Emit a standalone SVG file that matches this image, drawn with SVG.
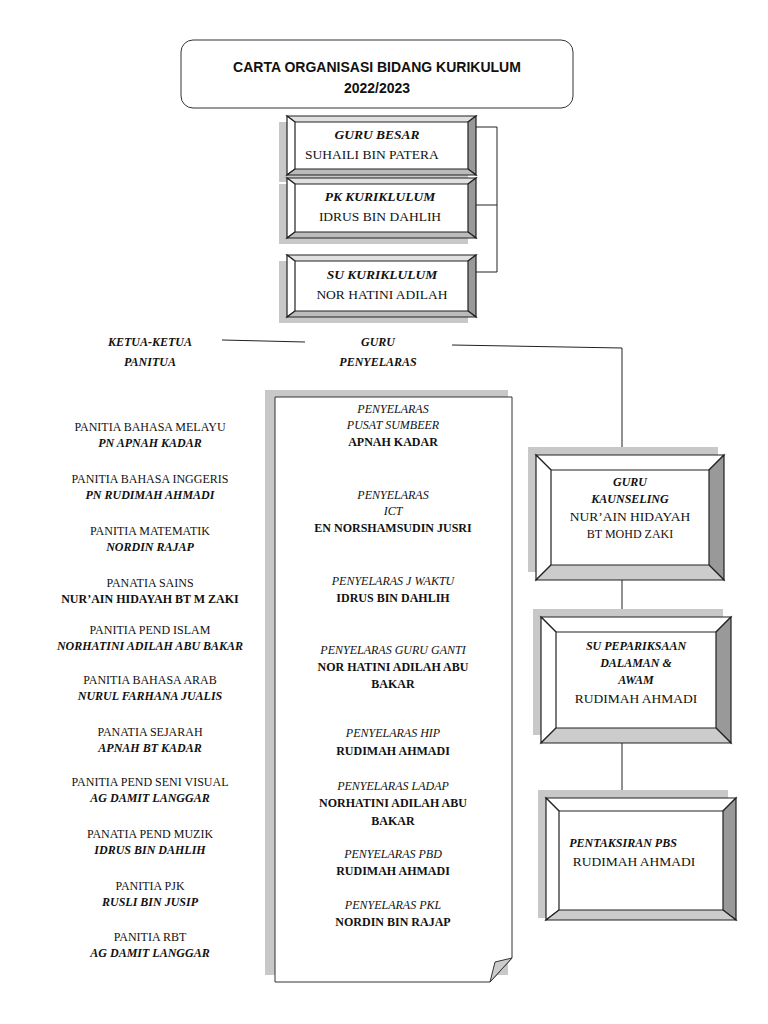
<svg xmlns="http://www.w3.org/2000/svg" width="768" height="1024" viewBox="0 0 768 1024">
<style>
text{font-family:"Liberation Serif","Times New Roman",serif;font-size:12px;fill:#111;text-anchor:middle}
.bi{font-weight:bold;font-style:italic}
.b{font-weight:bold}
.i{font-style:italic}
.n{font-size:13.5px}
.t{font-family:"Liberation Sans",Arial,sans-serif;font-weight:bold;font-size:14px}
.ln{stroke:#222;stroke-width:1;fill:none}
.sh{fill:#c8c8c8}
.bv{stroke:#222;stroke-width:1.2}
</style>
<rect width="768" height="1024" fill="#fff"/>
<g id="title">
<rect x="181" y="40" width="392" height="68" rx="12" fill="#fff" stroke="#333"/>
<text class="t" x="377" y="72">CARTA ORGANISASI BIDANG  KURIKULUM</text>
<text class="t" x="377" y="93">2022/2023</text>
</g>
<g id="connectors" class="ln">
<polyline points="476,127 497,127 497,272 476,272"/>
<line x1="476" y1="205" x2="497" y2="205"/>
<line x1="222" y1="340" x2="305" y2="342"/>
<polyline points="452,345 622,348 622,455"/>
<line x1="622" y1="580" x2="622" y2="617"/>
<line x1="622" y1="743" x2="622" y2="798"/>
</g>
<g id="guru-besar">
<rect class="sh" x="279" y="122" width="189" height="60"/>
<rect x="287" y="116" width="189" height="59" fill="#fff"/>
<polygon points="287,116 476,116 468,122 295,122" fill="#e0e0e0" class="bv"/>
<polygon points="287,116 295,122 295,169 287,175" fill="#fff" class="bv"/>
<polygon points="476,116 476,175 468,169 468,122" fill="#999" class="bv"/>
<polygon points="287,175 476,175 468,169 295,169" fill="#bbb" class="bv"/>
<text class="bi n" x="377" y="139">GURU BESAR</text>
<text class="n" x="372" y="159">SUHAILI BIN PATERA</text>
</g>
<g id="pk-kurikulum">
<rect class="sh" x="279" y="184" width="189" height="60"/>
<rect x="287" y="178" width="189" height="60" fill="#fff"/>
<polygon points="287,178 476,178 468,184 295,184" fill="#e0e0e0" class="bv"/>
<polygon points="287,178 295,184 295,232 287,238" fill="#fff" class="bv"/>
<polygon points="476,178 476,238 468,232 468,184" fill="#999" class="bv"/>
<polygon points="287,238 476,238 468,232 295,232" fill="#bbb" class="bv"/>
<text class="bi n" x="380" y="201">PK KURIKLULUM</text>
<text class="n" x="380" y="221">IDRUS BIN DAHLIH</text>
</g>
<g id="su-kurikulum">
<rect class="sh" x="279" y="261" width="189" height="62"/>
<rect x="287" y="255" width="189" height="62" fill="#fff"/>
<polygon points="287,255 476,255 468,261 295,261" fill="#e0e0e0" class="bv"/>
<polygon points="287,255 295,261 295,311 287,317" fill="#fff" class="bv"/>
<polygon points="476,255 476,317 468,311 468,261" fill="#999" class="bv"/>
<polygon points="287,317 476,317 468,311 295,311" fill="#bbb" class="bv"/>
<text class="bi n" x="382" y="279">SU KURIKLULUM</text>
<text class="n" x="382" y="299">NOR HATINI ADILAH</text>
</g>
<g id="ketua">
<text class="bi" x="150" y="346">KETUA-KETUA</text>
<text class="bi" x="150" y="366">PANITUA</text>
</g>
<g id="guru-penyelaras">
<text class="bi" x="378" y="346">GURU</text>
<text class="bi" x="378" y="366">PENYELARAS</text>
</g>
<g id="panitia">
<text x="150" y="431">PANITIA  BAHASA MELAYU</text><text class="bi" x="150" y="447">PN APNAH KADAR</text>
<text x="150" y="483">PANITIA  BAHASA INGGERIS</text><text class="bi" x="150" y="499">PN RUDIMAH AHMADI</text>
<text x="150" y="535">PANITIA   MATEMATIK</text><text class="bi" x="150" y="551">NORDIN RAJAP</text>
<text x="150" y="587">PANATIA SAINS</text><text class="b" x="150" y="603">NUR’AIN HIDAYAH BT M ZAKI</text>
<text x="150" y="634">PANITIA  PEND ISLAM</text><text class="bi" x="150" y="650">NORHATINI ADILAH ABU BAKAR</text>
<text x="150" y="684">PANITIA  BAHASA ARAB</text><text class="bi" x="150" y="700">NURUL FARHANA JUALIS</text>
<text x="150" y="736">PANATIA SEJARAH</text><text class="bi" x="150" y="752">APNAH BT KADAR</text>
<text x="150" y="786">PANITIA  PEND SENI VISUAL</text><text class="bi" x="150" y="802">AG DAMIT LANGGAR</text>
<text x="150" y="838">PANATIA PEND MUZIK</text><text class="bi" x="150" y="854">IDRUS BIN DAHLIH</text>
<text x="150" y="890">PANITIA  PJK</text><text class="bi" x="150" y="906">RUSLI BIN JUSIP</text>
<text x="150" y="941">PANITIA  RBT</text><text class="bi" x="150" y="957">AG DAMIT LANGGAR</text>
</g>
<g id="penyelaras-list">
<rect class="sh" x="265" y="390" width="243" height="585"/>
<path d="M275,397 H512 V958 L490,982 H275 Z" fill="#fff" stroke="#333"/>
<path d="M512,958 L490,982 L495,962 Z" fill="#ccc" stroke="#333"/>
<text class="i" x="393" y="413">PENYELARAS</text>
<text class="i" x="393" y="429">PUSAT SUMBEER</text>
<text class="b" x="393" y="446">APNAH KADAR</text>
<text class="i" x="393" y="499">PENYELARAS</text>
<text class="i" x="393" y="515">ICT</text>
<text class="b" x="393" y="532">EN NORSHAMSUDIN JUSRI</text>
<text class="i" x="393" y="585">PENYELARAS J WAKTU</text>
<text class="b" x="393" y="602">IDRUS BIN DAHLIH</text>
<text class="i" x="393" y="654">PENYELARAS GURU GANTI</text>
<text class="b" x="393" y="671">NOR HATINI ADILAH ABU</text>
<text class="b" x="393" y="688">BAKAR</text>
<text class="i" x="393" y="737">PENYELARAS HIP</text>
<text class="b" x="393" y="755">RUDIMAH AHMADI</text>
<text class="i" x="393" y="790">PENYELARAS LADAP</text>
<text class="b" x="393" y="807">NORHATINI ADILAH ABU</text>
<text class="b" x="393" y="825">BAKAR</text>
<text class="i" x="393" y="858">PENYELARAS PBD</text>
<text class="b" x="393" y="875">RUDIMAH AHMADI</text>
<text class="i" x="393" y="909">PENYELARAS PKL</text>
<text class="b" x="393" y="926">NORDIN BIN RAJAP</text>
</g>
<g id="guru-kaunseling">
<rect class="sh" x="528" y="447" width="190" height="125"/>
<rect x="536" y="455" width="188" height="125" fill="#fff"/>
<polygon points="536,455 724,455 709,470 551,470" fill="#fff" class="bv"/>
<polygon points="536,455 551,470 551,565 536,580" fill="#fff" class="bv"/>
<polygon points="724,455 724,580 709,565 709,470" fill="#999" class="bv"/>
<polygon points="536,580 724,580 709,565 551,565" fill="#ccc" class="bv"/>
<text class="bi" x="630" y="486">GURU</text>
<text class="bi" x="630" y="503">KAUNSELING</text>
<text class="n" x="630" y="521">NUR’AIN HIDAYAH</text>
<text x="630" y="538">BT MOHD ZAKI</text>
</g>
<g id="su-peperiksaan">
<rect class="sh" x="533" y="609" width="190" height="126"/>
<rect x="541" y="617" width="190" height="126" fill="#fff"/>
<polygon points="541,617 731,617 716,632 556,632" fill="#fff" class="bv"/>
<polygon points="541,617 556,632 556,728 541,743" fill="#fff" class="bv"/>
<polygon points="731,617 731,743 716,728 716,632" fill="#999" class="bv"/>
<polygon points="541,743 731,743 716,728 556,728" fill="#ccc" class="bv"/>
<text class="bi" x="636" y="650">SU PEPARIKSAAN</text>
<text class="bi" x="636" y="667">DALAMAN &amp;</text>
<text class="bi" x="636" y="684">AWAM</text>
<text class="n" x="636" y="703">RUDIMAH AHMADI</text>
</g>
<g id="pentaksiran">
<rect class="sh" x="538" y="790" width="190" height="128"/>
<rect x="546" y="798" width="190" height="122" fill="#fff"/>
<polygon points="546,798 736,798 723,811 559,811" fill="#fff" class="bv"/>
<polygon points="546,798 559,811 559,910 546,920" fill="#fff" class="bv"/>
<polygon points="736,798 736,920 723,910 723,811" fill="#999" class="bv"/>
<polygon points="546,920 736,920 723,910 559,910" fill="#ccc" class="bv"/>
<text class="bi" x="623" y="847">PENTAKSIRAN PBS</text>
<text class="n" x="634" y="866">RUDIMAH AHMADI</text>
</g>
</svg>
